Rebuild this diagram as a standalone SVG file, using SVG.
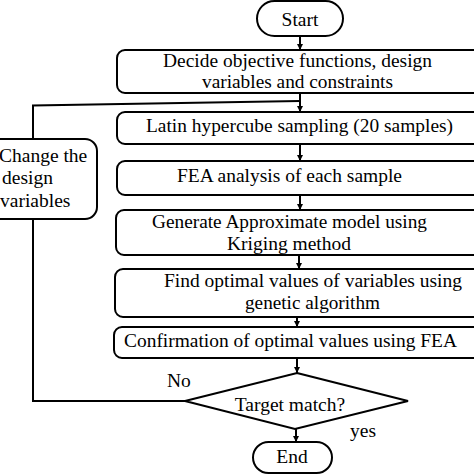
<svg xmlns="http://www.w3.org/2000/svg" width="474" height="474" viewBox="0 0 474 474" font-family="'Liberation Serif', 'DejaVu Serif', 'Times New Roman', serif">
<style>
.b{fill:#fff;stroke:#000;stroke-width:2}
.t{font-size:19.5px;fill:#000}
.c{fill:none;stroke:#000;stroke-width:2}
</style>
<defs>
<marker id="ah" viewBox="0 0 10 10" refX="10" refY="5" markerWidth="6" markerHeight="6" markerUnits="userSpaceOnUse" orient="auto">
<path d="M0,0 L10,5 L0,10 z" fill="#000"/>
</marker>
</defs>
<rect width="474" height="474" fill="#fff"/>
<g id="connectors">
<line class="c" x1="300" y1="36" x2="300" y2="50" marker-end="url(#ah)"/>
<line class="c" x1="300" y1="93" x2="300" y2="112" marker-end="url(#ah)"/>
<line class="c" x1="300" y1="144" x2="300" y2="161" marker-end="url(#ah)"/>
<line class="c" x1="300" y1="195" x2="300" y2="210" marker-end="url(#ah)"/>
<line class="c" x1="299" y1="255" x2="299" y2="269" marker-end="url(#ah)"/>
<line class="c" x1="297" y1="317" x2="297" y2="327" marker-end="url(#ah)"/>
<line class="c" x1="297" y1="358" x2="297" y2="373" marker-end="url(#ah)"/>
<line class="c" x1="296" y1="429" x2="296" y2="442" marker-end="url(#ah)"/>
<polyline class="c" points="185,401 33,401 33,219"/>
<polyline class="c" points="33,139 33,105.5 300,101"/>
</g>
<g id="start">
<rect class="b" x="257" y="1" width="86" height="35" rx="17.5"/>
<text class="t" x="300" y="26" text-anchor="middle">Start</text>
</g>
<g id="decide">
<rect class="b" x="117" y="50" width="372" height="43" rx="8"/>
<text class="t" x="163" y="67" textLength="269" lengthAdjust="spacingAndGlyphs">Decide objective functions, design</text>
<text class="t" x="202" y="88" textLength="191" lengthAdjust="spacingAndGlyphs">variables and constraints</text>
</g>
<g id="latin">
<rect class="b" x="117" y="112" width="372" height="32" rx="8"/>
<text class="t" x="146" y="132" textLength="307" lengthAdjust="spacingAndGlyphs">Latin hypercube sampling (20 samples)</text>
</g>
<g id="fea">
<rect class="b" x="117" y="161" width="372" height="34" rx="8"/>
<text class="t" x="177" y="182" textLength="225" lengthAdjust="spacingAndGlyphs">FEA analysis of each sample</text>
</g>
<g id="approx">
<rect class="b" x="116" y="210" width="373" height="45" rx="8"/>
<text class="t" x="152" y="228" textLength="275" lengthAdjust="spacingAndGlyphs">Generate Approximate model using</text>
<text class="t" x="227" y="250" textLength="124" lengthAdjust="spacingAndGlyphs">Kriging method</text>
</g>
<g id="find">
<rect class="b" x="115" y="269" width="374" height="48" rx="8"/>
<text class="t" x="164" y="287" textLength="298" lengthAdjust="spacingAndGlyphs">Find optimal values of variables using</text>
<text class="t" x="245" y="309" textLength="135" lengthAdjust="spacingAndGlyphs">genetic algorithm</text>
</g>
<g id="confirm">
<rect class="b" x="114" y="327" width="375" height="31" rx="8"/>
<text class="t" x="124" y="347" textLength="333" lengthAdjust="spacingAndGlyphs">Confirmation of optimal values using FEA</text>
</g>
<g id="target">
<polygon class="b" points="297,373 408,401 295,429 185,401"/>
<text class="t" x="290" y="411" text-anchor="middle">Target match?</text>
</g>
<g id="change">
<rect class="b" x="-20" y="139" width="117" height="80" rx="12"/>
<text class="t" x="-1" y="162">Change the</text>
<text class="t" x="2" y="184">design</text>
<text class="t" x="0" y="207">variables</text>
</g>
<g id="end">
<rect class="b" x="253" y="442" width="79" height="31" rx="15.5"/>
<text class="t" x="292" y="463" text-anchor="middle">End</text>
</g>
<g id="labels">
<text class="t" x="167" y="387">No</text>
<text class="t" x="350" y="437">yes</text>
</g>
</svg>
